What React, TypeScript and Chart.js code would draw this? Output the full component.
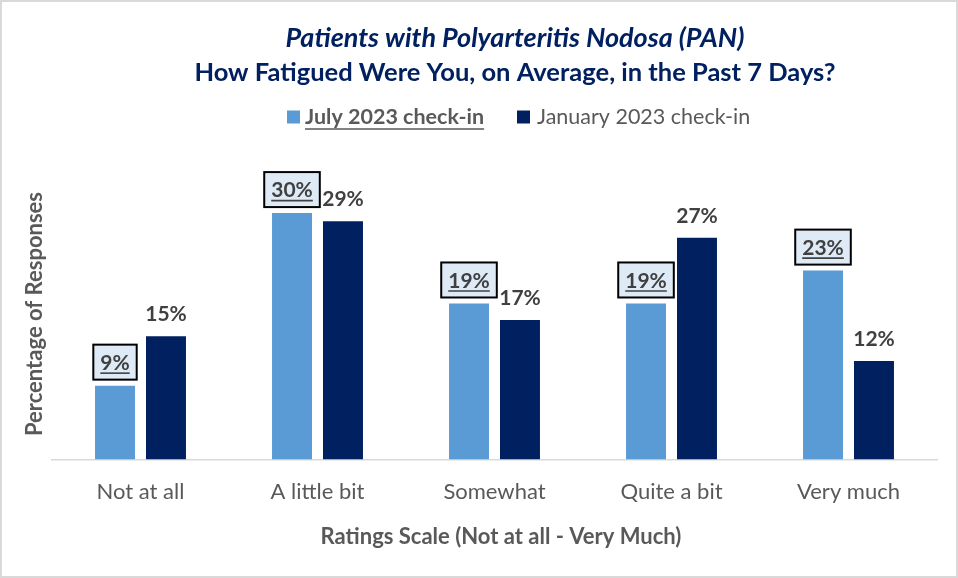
import React, { useEffect, useRef } from "react";
import { Chart, registerables } from "chart.js";

Chart.register(...registerables);

const categories = ["Not at all", "A little bit", "Somewhat", "Quite a bit", "Very much"];
const july2023 = [9, 30, 19, 19, 23];
const january2023 = [15, 29, 17, 27, 12];
const seriesNames = ["July 2023 check-in", "January 2023 check-in"];
const titleLines = [
  "Patients with Polyarteritis Nodosa (PAN)",
  "How Fatigued Were You, on Average, in the Past 7 Days?",
];
const xTitle = "Ratings Scale (Not at all - Very Much)";
const yTitle = "Percentage of Responses";

const LIGHT = "#5B9BD5";
const DARK = "#002060";
const NAVY = "#002060";
const GREY_TEXT = "#595959";
const LABEL_TEXT = "#404040";
const FONT = "Lato, 'Open Sans', sans-serif";

function underline(ctx: CanvasRenderingContext2D, x: number, y: number, w: number, color: string, lw = 1.6) {
  ctx.save();
  ctx.strokeStyle = color;
  ctx.lineWidth = lw;
  ctx.beginPath();
  ctx.moveTo(x, y);
  ctx.lineTo(x + w, y);
  ctx.stroke();
  ctx.restore();
}

const decorPlugin = {
  id: "decor",
  afterDraw(chart: any) {
    const ctx: CanvasRenderingContext2D = chart.ctx;
    const W = chart.width;
    const H = chart.height;
    ctx.save();
    // outer border
    ctx.strokeStyle = "#d9d9d9";
    ctx.lineWidth = 2;
    ctx.strokeRect(1, 1, W - 2, H - 2);

    // titles
    ctx.fillStyle = NAVY;
    ctx.textAlign = "center";
    ctx.textBaseline = "middle";
    ctx.font = `italic bold 27px ${FONT}`;
    ctx.fillText(titleLines[0], 515, 38);
    ctx.font = `bold 25.5px ${FONT}`;
    ctx.fillText(titleLines[1], 515, 73);

    // legend
    const ly = 117;
    ctx.textAlign = "left";
    ctx.fillStyle = LIGHT;
    ctx.fillRect(287, ly - 6.5, 13, 13);
    ctx.fillStyle = GREY_TEXT;
    ctx.font = `bold 21.5px ${FONT}`;
    ctx.fillText(seriesNames[0], 305, ly);
    const w0 = ctx.measureText(seriesNames[0]).width;
    underline(ctx, 305, ly + 12, w0, GREY_TEXT);
    ctx.fillStyle = DARK;
    ctx.fillRect(517, ly - 6.5, 13, 13);
    ctx.fillStyle = GREY_TEXT;
    ctx.font = `21.5px ${FONT}`;
    ctx.fillText(seriesNames[1], 537, ly);

    // x title
    ctx.textAlign = "center";
    ctx.font = `bold 22px ${FONT}`;
    ctx.fillText(xTitle, 501, 537);

    // y title
    ctx.save();
    ctx.translate(35, 314);
    ctx.rotate(-Math.PI / 2);
    ctx.fillText(yTitle, 0, 0);
    ctx.restore();

    // data labels
    const m0 = chart.getDatasetMeta(0);
    const m1 = chart.getDatasetMeta(1);
    ctx.font = `bold 21px ${FONT}`;
    m0.data.forEach((bar: any, i: number) => {
      const txt = `${july2023[i]}%`;
      const tw = ctx.measureText(txt).width;
      const bw = tw + 14;
      const bh = 35;
      const bx = bar.x - bw / 2;
      const by = bar.y - 6 - bh;
      ctx.fillStyle = "#DEEBF7";
      ctx.fillRect(bx, by, bw, bh);
      ctx.strokeStyle = "#000000";
      ctx.lineWidth = 2;
      ctx.strokeRect(bx, by, bw, bh);
      ctx.fillStyle = LABEL_TEXT;
      ctx.fillText(txt, bar.x, by + bh / 2 + 1);
      underline(ctx, bar.x - tw / 2, by + bh / 2 + 11, tw, LABEL_TEXT);
    });
    m1.data.forEach((bar: any, i: number) => {
      const txt = `${january2023[i]}%`;
      ctx.fillStyle = LABEL_TEXT;
      ctx.fillText(txt, bar.x, bar.y - 22);
    });
    ctx.restore();
  },
};

export default function App() {
  const ref = useRef<HTMLCanvasElement | null>(null);
  useEffect(() => {
    if (!ref.current) return;
    const chart = new Chart(ref.current, {
      type: "bar",
      data: {
        labels: categories,
        datasets: [
          { label: seriesNames[0], data: july2023, backgroundColor: LIGHT },
          { label: seriesNames[1], data: january2023, backgroundColor: DARK },
        ],
      },
      options: {
        animation: false,
        responsive: false,
        devicePixelRatio: 1,
        categoryPercentage: 0.576,
        barPercentage: 0.784,
        layout: { padding: { left: 52, right: 21, top: 172, bottom: 54 } },
        plugins: {
          legend: { display: false },
          title: { display: false },
          tooltip: { enabled: false },
        },
        scales: {
          x: {
            grid: { display: false, drawTicks: false },
            border: { display: true, color: "#d9d9d9", width: 1.5 },
            ticks: {
              color: GREY_TEXT,
              padding: 19,
              font: { family: FONT, size: 22 },
            },
          },
          y: {
            display: false,
            min: 0,
            max: 35,
          },
        },
      },
      plugins: [decorPlugin],
    });
    return () => chart.destroy();
  }, []);
  return (
    <div style={{ position: "fixed", left: 0, top: 0, width: 958, height: 578, background: "#fff" }}>
      <canvas ref={ref} width={958} height={578} style={{ width: 958, height: 578 }} />
    </div>
  );
}
